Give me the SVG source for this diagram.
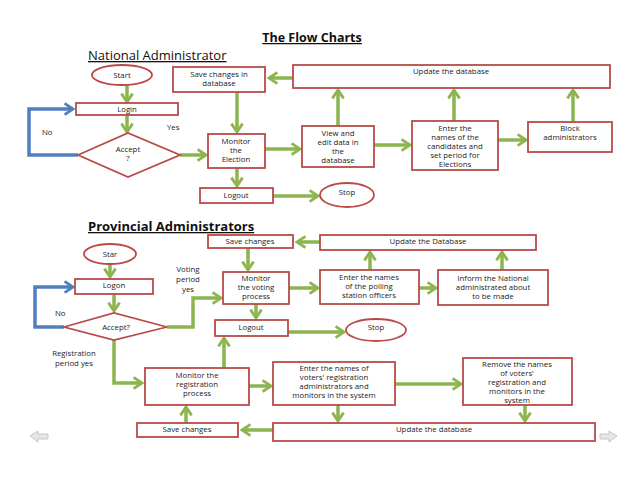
<svg xmlns="http://www.w3.org/2000/svg" width="638" height="478" viewBox="0 0 638 478">
<style>
.n{fill:#fff;stroke:#b94a48;stroke-width:1.8}
.t{font-family:"Open Sans","Liberation Sans",sans-serif;font-size:7.8px;fill:#222;text-anchor:middle}
.l{font-family:"Open Sans","Liberation Sans",sans-serif;font-size:7.8px;fill:#222}
.h{font-family:"Open Sans","Liberation Sans",sans-serif;font-weight:bold;font-size:12.5px;fill:#111;text-decoration:underline}
.g{fill:none;stroke:#8db54e;stroke-width:3.5;marker-end:url(#ag)}
.b{fill:none;stroke:#4f7fbf;stroke-width:3.5;marker-end:url(#ab)}
</style>
<defs>
<marker id="ag" viewBox="0 0 10 10" refX="8" refY="5" markerWidth="4" markerHeight="4" orient="auto" markerUnits="strokeWidth"><polyline points="2,1 8,5 2,9" fill="none" stroke="#8db54e" stroke-width="2"/></marker>
<marker id="ab" viewBox="0 0 10 10" refX="8" refY="5" markerWidth="4" markerHeight="4" orient="auto" markerUnits="strokeWidth"><polyline points="2,1 8,5 2,9" fill="none" stroke="#4f7fbf" stroke-width="2"/></marker>
</defs>
<rect width="638" height="478" fill="#fff"/>
<text x="312" y="42" class="h" text-anchor="middle">The Flow Charts</text>
<text x="88" y="60" class="h" style="font-weight:normal;font-size:13px">National Administrator</text>
<text x="88" y="231" class="h" style="font-size:13px">Provincial Administrators</text>

<g id="connectors">
<path class="g" d="M127 85V102"/>
<path class="g" d="M127 115V132"/>
<path class="b" d="M78 155H29V109H73"/>
<path class="g" d="M180 155H206"/>
<path class="g" d="M293 78H269"/>
<path class="g" d="M237 92V132"/>
<path class="g" d="M265 149H300"/>
<path class="g" d="M338 126V90"/>
<path class="g" d="M374 145H410"/>
<path class="g" d="M454 121V90"/>
<path class="g" d="M498 140H526"/>
<path class="g" d="M573 122V90"/>
<path class="g" d="M237 168V186"/>
<path class="g" d="M273 196H318"/>

<path class="g" d="M110 264V277"/>
<path class="g" d="M114 294V311"/>
<path class="b" d="M64 327H35V287H73"/>
<path class="g" d="M167 327H193V298H221"/>
<path class="g" d="M114 340V383H142"/>
<path class="g" d="M320 242H297"/>
<path class="g" d="M248 248V270"/>
<path class="g" d="M289 288H318"/>
<path class="g" d="M370 270V252"/>
<path class="g" d="M419 288H436"/>
<path class="g" d="M502 270V252"/>
<path class="g" d="M256 304V318"/>
<path class="g" d="M288 332H344"/>
<path class="g" d="M224 368V338"/>
<path class="g" d="M249 386H271"/>
<path class="g" d="M395 384H461"/>
<path class="g" d="M338 405V421"/>
<path class="g" d="M525 405V421"/>
<path class="g" d="M273 430H242"/>
<path class="g" d="M186 423V407"/>
</g>

<g id="start1"><ellipse class="n" cx="122" cy="75" rx="30" ry="10"/><text class="t" x="122" y="78">Start</text></g>
<g id="login"><rect class="n" x="76" y="103" width="102" height="12"/><text class="t" x="127" y="112">Login</text></g>
<g id="accept1"><polygon class="n" points="78,155 128,133 180,155 128,177"/><text class="t" x="128" y="152">Accept</text><text class="t" x="128" y="161">?</text></g>
<text class="l" x="42" y="135">No</text>
<text class="l" x="167" y="130">Yes</text>
<g id="save1"><rect class="n" x="173" y="67" width="92" height="25"/><text class="t" x="219" y="77">Save changes in</text><text class="t" x="219" y="86">database</text></g>
<g id="monitor1"><rect class="n" x="208" y="134" width="57" height="34"/><text class="t" x="236" y="144">Monitor</text><text class="t" x="236" y="153">the</text><text class="t" x="236" y="162">Election</text></g>
<g id="logout1"><rect class="n" x="200" y="188" width="73" height="15"/><text class="t" x="236" y="198">Logout</text></g>
<g id="stop1"><ellipse class="n" cx="347" cy="195" rx="27" ry="12"/><text class="t" x="347" y="195">Stop</text></g>
<g id="update1"><rect class="n" x="293" y="65" width="317" height="23"/><text class="t" x="451" y="74">Update the database</text></g>
<g id="view"><rect class="n" x="302" y="126" width="72" height="41"/><text class="t" x="338" y="136">View and</text><text class="t" x="338" y="145">edit data in</text><text class="t" x="338" y="154">the</text><text class="t" x="338" y="163">database</text></g>
<g id="enter1"><rect class="n" x="412" y="121" width="86" height="49"/><text class="t" x="455" y="131">Enter the</text><text class="t" x="455" y="140">names of the</text><text class="t" x="455" y="149">candidates and</text><text class="t" x="455" y="158">set period for</text><text class="t" x="455" y="167">Elections</text></g>
<g id="block"><rect class="n" x="528" y="122" width="84" height="30"/><text class="t" x="570" y="131">Block</text><text class="t" x="570" y="140">administrators</text></g>

<g id="star2"><ellipse class="n" cx="110" cy="254" rx="26" ry="10"/><text class="t" x="110" y="257">Star</text></g>
<g id="logon"><rect class="n" x="75" y="279" width="78" height="15"/><text class="t" x="114" y="288">Logon</text></g>
<g id="accept2"><polygon class="n" points="64,327 114,313 167,327 114,340"/><text class="t" x="116" y="330">Accept?</text></g>
<text class="l" x="55" y="316">No</text>
<text class="t" x="188" y="272">Voting</text><text class="t" x="188" y="282">period</text><text class="t" x="188" y="292">yes</text>
<text class="t" x="74" y="356">Registration</text><text class="t" x="74" y="366">period yes</text>
<g id="save2"><rect class="n" x="208" y="235" width="85" height="13"/><text class="t" x="250" y="244">Save changes</text></g>
<g id="monitorv"><rect class="n" x="223" y="272" width="66" height="32"/><text class="t" x="256" y="281">Monitor</text><text class="t" x="256" y="290">the voting</text><text class="t" x="256" y="299">process</text></g>
<g id="update2"><rect class="n" x="320" y="235" width="216" height="15"/><text class="t" x="428" y="244">Update the Database</text></g>
<g id="enterp"><rect class="n" x="320" y="270" width="99" height="34"/><text class="t" x="369" y="280">Enter the names</text><text class="t" x="369" y="289">of the polling</text><text class="t" x="369" y="298">station officers</text></g>
<g id="inform"><rect class="n" x="438" y="270" width="110" height="35"/><text class="t" x="493" y="281">Inform the National</text><text class="t" x="493" y="290">administrated about</text><text class="t" x="493" y="299">to be made</text></g>
<g id="logout2"><rect class="n" x="215" y="320" width="73" height="16"/><text class="t" x="251" y="330">Logout</text></g>
<g id="stop2"><ellipse class="n" cx="376" cy="330" rx="30" ry="11"/><text class="t" x="376" y="330">Stop</text></g>
<g id="monitorr"><rect class="n" x="145" y="368" width="104" height="37"/><text class="t" x="197" y="378">Monitor the</text><text class="t" x="197" y="387">registration</text><text class="t" x="197" y="396">process</text></g>
<g id="enterv"><rect class="n" x="273" y="362" width="122" height="43"/><text class="t" x="334" y="371">Enter the names of</text><text class="t" x="334" y="380">voters' registration</text><text class="t" x="334" y="389">administrators and</text><text class="t" x="334" y="398">monitors in the system</text></g>
<g id="remove"><rect class="n" x="463" y="358" width="109" height="47"/><text class="t" x="517" y="367">Remove the names</text><text class="t" x="517" y="376">of voters'</text><text class="t" x="517" y="385">registration and</text><text class="t" x="517" y="394">monitors in the</text><text class="t" x="517" y="403">system</text></g>
<g id="save3"><rect class="n" x="137" y="423" width="101" height="14"/><text class="t" x="187" y="432">Save changes</text></g>
<g id="update3"><rect class="n" x="273" y="423" width="322" height="18"/><text class="t" x="434" y="432">Update the database</text></g>

<polygon points="30,436 38,431 38,434 48,434 48,439 38,439 38,442" fill="#e6e6e6" stroke="#bbb" stroke-width="0.8"/>
<polygon points="617,436 609,431 609,434 600,434 600,439 609,439 609,442" fill="#e6e6e6" stroke="#bbb" stroke-width="0.8"/>
</svg>
